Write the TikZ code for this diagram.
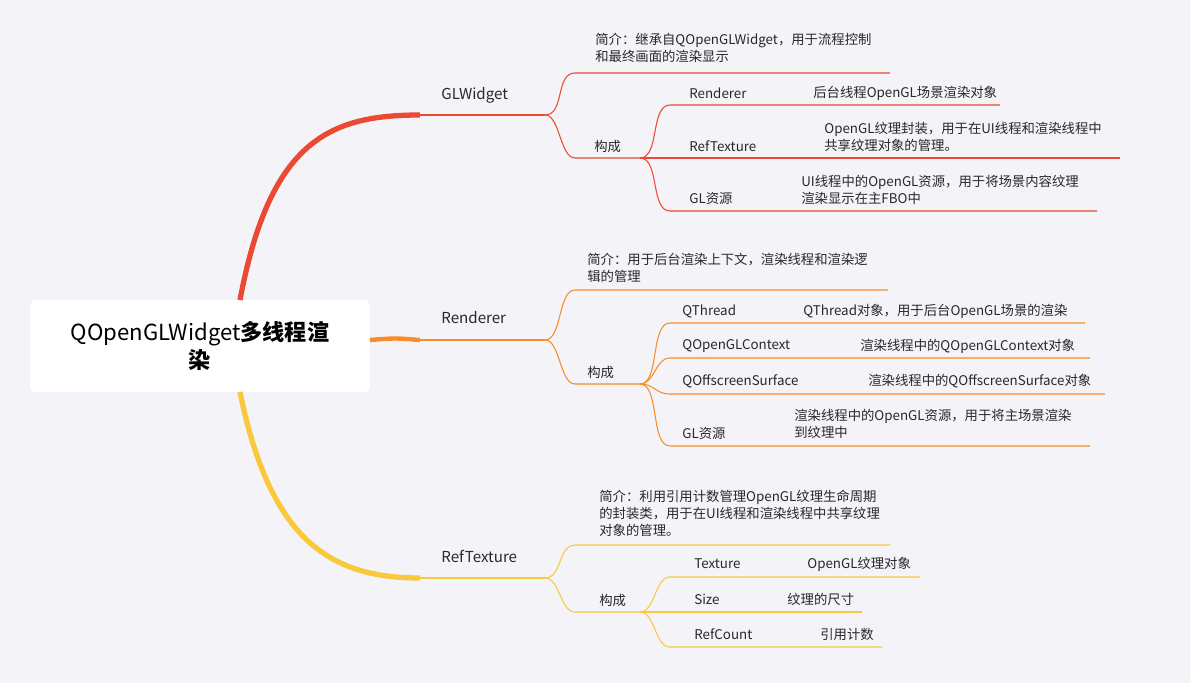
\documentclass[tikz,border=0pt]{standalone}
\usepackage{fontspec}
\setmainfont{Noto Sans CJK SC}
\definecolor{bgcol}{RGB}{244,244,248}
\definecolor{redb}{RGB}{236,72,52}
\definecolor{orab}{RGB}{247,140,40}
\definecolor{yelb}{RGB}{250,200,60}
\definecolor{txt}{RGB}{40,40,40}
\tikzset{
  lbl/.style={anchor=west, inner sep=0pt, text=txt, font=\fontsize{7.6}{9.6}\selectfont, align=left},
  branch/.style={anchor=west, inner sep=0pt, text=txt, font=\fontsize{8.6}{10}\selectfont},
  link/.style={line width=0.6pt},
}
\begin{document}
\begin{tikzpicture}[x=0.02cm,y=-0.02cm]
    \fill[bgcol] (0,0) rectangle (1191,683);

    % 中心
    \node[fill=white, rounded corners=3pt, minimum width=6.8cm, minimum height=1.84cm,
          font=\fontsize{12.6}{16}\selectfont, align=center, text=black] (root) at (200,346)
          {QOpenGLWidget\textbf{多线程渲}\\\textbf{染}};

    % 主分支
    \coordinate (g0) at (420,115); \coordinate (g1) at (545,115);
    \coordinate (r0) at (420,340); \coordinate (r1) at (545,340);
    \coordinate (t0) at (420,578); \coordinate (t1) at (545,578);
    \node[branch] (glw) at (441,95) {GLWidget};
    \node[branch] (ren) at (441,318) {Renderer};
    \node[branch] (rtx) at (441,556) {RefTexture};
    \draw[redb, line width=3pt] (240,300) .. controls (270,140) and (330,115) .. (g0);
    \draw[redb, line width=1pt] (g0) -- (g1);
    \draw[orab, line width=2.5pt] (370,340) .. controls (395,338) .. (r0);
    \draw[orab, line width=1pt] (r0) -- (r1);
    \draw[yelb, line width=3pt] (240,392) .. controls (270,540) and (330,578) .. (t0);
    \draw[yelb, line width=1pt] (t0) -- (t1);

    % GLWidget
    \node[lbl] (gi) at (595,48) {简介：继承自QOpenGLWidget，用于流程控制\\和最终画面的渲染显示};
    \node[lbl] (gc) at (594,146) {构成};
    \node[lbl] (gc1) at (689,93) {Renderer};
    \node[lbl] (gc2) at (689,146) {RefTexture};
    \node[lbl] (gc3) at (689,198) {GL资源};
    \node[lbl] (gv1) at (813,93) {后台线程OpenGL场景渲染对象};
    \node[lbl] (gv2) at (824,137) {OpenGL纹理封装，用于在UI线程和渲染线程中\\共享纹理对象的管理。};
    \node[lbl] (gv3) at (801,190) {UI线程中的OpenGL资源，用于将场景内容纹理\\渲染显示在主FBO中};
    \begin{scope}[redb, link]
      \draw (g1) .. controls (565,115) and (555,73) .. (575,73) -- (890,73);
      \draw (g1) .. controls (560,115) and (560,158) .. (575,158) -- (640,158);
      \draw (640,158) .. controls (660,158) and (650,105) .. (670,105) -- (1000,105);
      \draw (640,158) -- (1120,158);
      \draw (640,158) .. controls (660,158) and (650,211) .. (670,211) -- (1097,211);
    \end{scope}

    % Renderer
    \node[lbl] (ri) at (587,268) {简介：用于后台渲染上下文，渲染线程和渲染逻\\辑的管理};
    \node[lbl] (rc) at (587,372) {构成};
    \node[lbl] (rc1) at (682,311) {QThread};
    \node[lbl] (rc2) at (682,346) {QOpenGLContext};
    \node[lbl] (rc3) at (682,381) {QOffscreenSurface};
    \node[lbl] (rc4) at (682,433) {GL资源};
    \node[lbl] (rv1) at (803,311) {QThread对象，用于后台OpenGL场景的渲染};
    \node[lbl] (rv2) at (860,346) {渲染线程中的QOpenGLContext对象};
    \node[lbl] (rv3) at (868,381) {渲染线程中的QOffscreenSurface对象};
    \node[lbl] (rv4) at (794,424) {渲染线程中的OpenGL资源，用于将主场景渲染\\到纹理中};
    \begin{scope}[orab, link]
      \draw (r1) .. controls (562,340) and (558,290) .. (575,290) -- (888,290);
      \draw (r1) .. controls (560,340) and (560,384) .. (575,384) -- (640,384);
      \draw (640,384) .. controls (660,384) and (650,323) .. (670,323) -- (1085,323);
      \draw (640,384) .. controls (655,384) and (655,358) .. (670,358) -- (1090,358);
      \draw (640,384) .. controls (655,384) and (655,394) .. (670,394) -- (1105,394);
      \draw (640,384) .. controls (660,384) and (650,446) .. (670,446) -- (1090,446);
    \end{scope}

    % RefTexture
    \node[lbl] (ti) at (599,513) {简介：利用引用计数管理OpenGL纹理生命周期\\的封装类，用于在UI线程和渲染线程中共享纹理\\对象的管理。};
    \node[lbl] (tc) at (599,600) {构成};
    \node[lbl] (tc1) at (694,564) {Texture};
    \node[lbl] (tc2) at (694,599) {Size};
    \node[lbl] (tc3) at (694,634) {RefCount};
    \node[lbl] (tv1) at (807,564) {OpenGL纹理对象};
    \node[lbl] (tv2) at (787,599) {纹理的尺寸};
    \node[lbl] (tv3) at (820,634) {引用计数};
    \begin{scope}[yelb, link]
      \draw (t1) .. controls (562,578) and (558,545) .. (575,545) -- (890,545);
      \draw (t1) .. controls (560,578) and (560,612) .. (575,612) -- (640,612);
      \draw (640,612) .. controls (655,612) and (655,577) .. (670,577) -- (920,577);
      \draw (640,612) -- (862,612);
      \draw (640,612) .. controls (655,612) and (655,647) .. (670,647) -- (882,647);
    \end{scope}
\end{tikzpicture}
\end{document}
